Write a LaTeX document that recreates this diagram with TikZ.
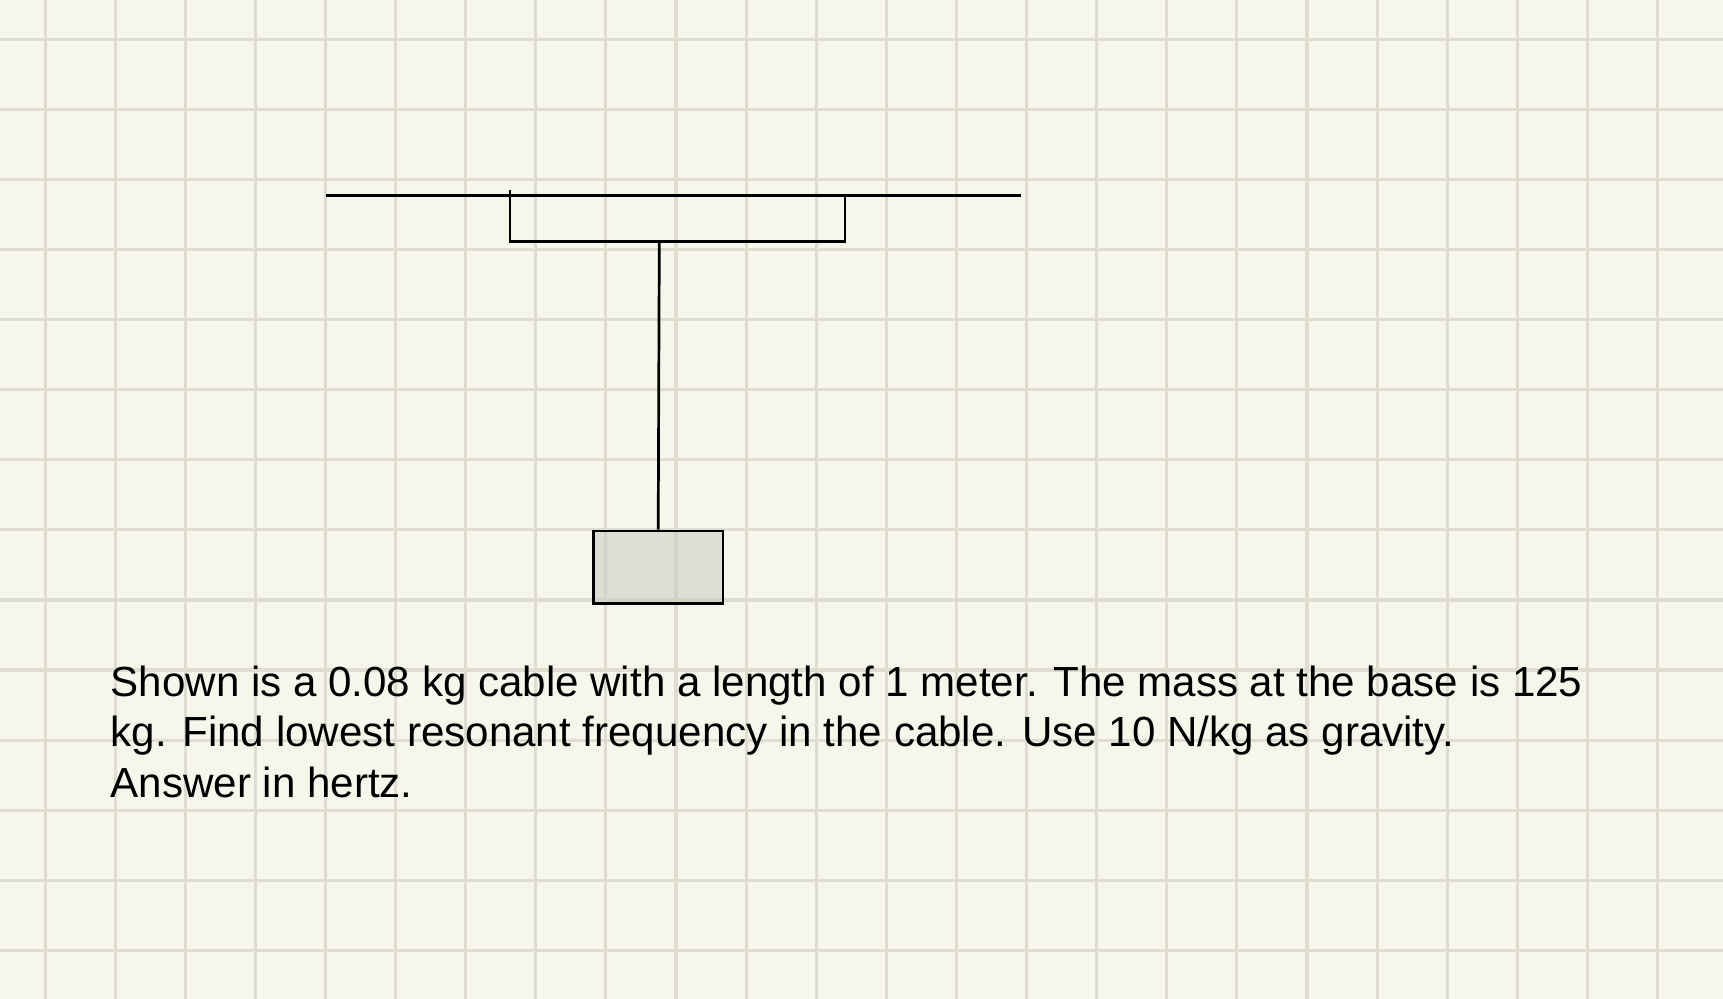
\documentclass[tikz,border=0pt]{standalone}
\usepackage{fontspec}
\setmainfont{Liberation Sans}
\definecolor{bg}{HTML}{F7F6EA}
\definecolor{gridc}{HTML}{DEDDD0}
\definecolor{massc}{HTML}{C8C8C0}
\begin{document}
\begin{tikzpicture}[x=0.01cm,y=-0.01cm,
  part/.style={draw=black,line width=0.7pt},
  gridline/.style={draw=gridc,line width=0.8pt}]
\fill[bg] (0,0) rectangle (1568,909);
\useasboundingbox (0,0) rectangle (1568,909);
\foreach \i in {0,...,23} {\draw[gridline] ({41+63.8*\i},0) -- ({41+63.8*\i},909);}
\foreach \j in {0,...,13} {\draw[gridline] (0,{36+63.75*\j}) -- (1568,{36+63.75*\j});}
\coordinate (ceilL) at (297,178);
\coordinate (ceilR) at (929,178);
\draw[part] (ceilL) -- (ceilR);
\draw[part] (464,173) -- (464,220) -- (769,220) -- (769,178);
\coordinate (top) at (600,220);
\node[part,fill=massc,fill opacity=0.5,minimum width=1.18cm,minimum height=0.66cm,inner sep=0pt,anchor=north] (mass) at (599,482) {};
\draw[part] (top) -- (mass.north);
\node[anchor=north west,align=left,inner sep=0pt,font=\fontsize{10.9pt}{13.1pt}\selectfont] (txt) at (100,605)
{Shown is a 0.08 kg cable with a length of 1 meter. The mass at the base is 125\\
kg. Find lowest resonant frequency in the cable. Use 10 N/kg as gravity.\\
Answer in hertz.};
\end{tikzpicture}
\end{document}
